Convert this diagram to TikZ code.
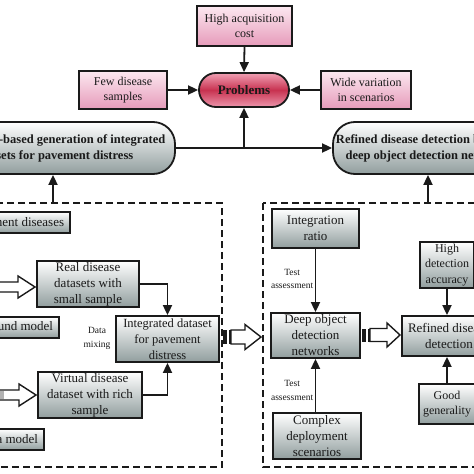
\documentclass[tikz,border=0pt]{standalone}
\usepackage{fontspec}
\setmainfont{Liberation Serif}
\usetikzlibrary{arrows.meta}
\definecolor{ink}{HTML}{1A1A1A}
\definecolor{grayb}{RGB}{145,158,158}
\definecolor{pinkt}{RGB}{252,232,240}
\definecolor{pinkb}{RGB}{230,155,186}
\definecolor{probt}{RGB}{240,160,180}
\definecolor{probm}{RGB}{200,50,80}
\definecolor{probb}{RGB}{236,150,172}
\tikzset{
 gbox/.style={draw=ink, line width=1.8pt, top color=white, bottom color=grayb, align=center, inner sep=0pt, text=ink, font=\fontsize{13}{16}\selectfont},
 pbox/.style={draw=ink, line width=1.8pt, top color=pinkt, bottom color=pinkb, align=center, inner sep=0pt, text=ink, font=\fontsize{12}{15}\selectfont},
 bigbox/.style={draw=ink, line width=1.8pt, top color=white, bottom color=grayb, rounded corners=22pt, align=center, inner sep=0pt, text=ink, font=\bfseries\fontsize{12.5}{16}\selectfont},
 probbox/.style={draw=ink, line width=1.8pt, rounded corners=17pt, top color=probt, bottom color=probb, middle color=probm, inner sep=0pt, text=ink, font=\bfseries\fontsize{13}{15}\selectfont},
 arr/.style={draw=ink, line width=1.8pt, -{Triangle[length=10pt,width=9pt]}},
 note/.style={align=center, inner sep=0pt, text=ink, font=\fontsize{9.5}{13.5}\selectfont},
 hollow/.style={draw=ink, line width=1.4pt, fill=white, line join=miter},
 dashbox/.style={draw=ink, line width=1.4pt, dash pattern=on 7pt off 4pt},
 cutbox/.style={gbox, anchor=east, minimum height=21pt, inner xsep=6pt},
}
\begin{document}
\begin{tikzpicture}[x=1pt,y=-1pt]
\useasboundingbox (0,0) rectangle (474,474);
\clip (0,0) rectangle (474,474);
\fill[white] (0,0) rectangle (474,474);

% top: problems
\node[pbox, minimum width=95pt, minimum height=40pt] (hac) at (244.5,26) {High acquisition\\cost};
\node[probbox, minimum width=90pt, minimum height=34pt] (prob) at (244,90) {Problems};
\node[pbox, minimum width=88pt, minimum height=38pt] (few) at (123,90) {Few disease\\samples};
\node[pbox, minimum width=90pt, minimum height=38pt] (wide) at (366,90) {Wide variation\\in scenarios};
\draw[arr] (hac.south) -- (prob.north);
\draw[arr] (few.east) -- (prob.west);
\draw[arr] (wide.west) -- (prob.east);

% big boxes
\node[bigbox, minimum width=244pt, minimum height=52pt] (gen) at (53,148) {Simulation-based generation of integrated\\datasets for pavement distress};
\node[bigbox, minimum width=190pt, minimum height=52pt] (det) at (428,148) {Refined disease detection based on\\deep object detection networks};
\draw[arr] (gen.east) -- (det.west);
\coordinate (mid) at (244,148);
\draw[arr] (mid) -- (prob.south);

% dashed frames
\draw[dashbox] (-10,203) rectangle (222,467);
\draw[dashbox] (263,203) rectangle (490,467);
\coordinate (lt) at (53,203);
\coordinate (rt) at (428,203);
\draw[arr] (lt) -- (gen.south);
\draw[arr] (rt) -- (det.south);

% left frame content
\node[cutbox] (pd) at (71,222.5) {Pavement diseases};
\node[cutbox] (bm) at (60,327.5) {Background model};
\node[cutbox] (dm) at (45,439.5) {Data model};
\node[gbox, minimum width=102pt, minimum height=46pt] (real) at (88,284) {Real disease\\datasets with\\small sample};
\node[gbox, minimum width=104pt, minimum height=46pt] (virt) at (90,395) {Virtual disease\\dataset with rich\\sample};
\node[gbox, minimum width=103pt, minimum height=46pt, font=\fontsize{12.5}{16}\selectfont] (integ) at (167.5,339) {Integrated dataset\\for pavement\\distress};
\draw[arr] (real.east) -| (integ.north);
\draw[arr] (virt.east) -| (integ.south);
\node[note] (mix) at (97,338.5) {Data\\mixing};

% hollow entry arrows (left)
\draw[hollow] (-5,282) -- (18,282) -- (18,276) -- (35,287) -- (18,298) -- (18,292) -- (-5,292) -- cycle;
\draw[hollow] (-5,390) -- (19,390) -- (19,384) -- (36,395) -- (19,406) -- (19,400) -- (-5,400) -- cycle;
\fill[gray!60] (0,390.7) rectangle (4,399.3);

% hollow arrow between frames
\draw[hollow] (231,330) -- (245,330) -- (245,324.5) -- (261,337) -- (245,349.5) -- (245,344) -- (231,344) -- cycle;
\fill[ink] (223,330) rectangle (226.5,344);
\fill[ink] (228.5,330) rectangle (231,344);

% right frame content
\node[gbox, minimum width=87pt, minimum height=39pt] (ir) at (315.5,228.5) {Integration\\ratio};
\node[gbox, minimum width=89pt, minimum height=45pt] (deep) at (315.5,335.5) {Deep object\\detection\\networks};
\node[gbox, minimum width=88pt, minimum height=46pt] (cds) at (317,436) {Complex\\deployment\\scenarios};
\draw[arr] (ir.south) -- (deep.north);
\draw[arr] (deep.south |- cds.north) -- (deep.south);
\node[note, anchor=east] (ta1) at (313.5,279) {Test\\assessment};
\node[note, anchor=east] (ta2) at (313.5,390.5) {Test\\assessment};

\draw[hollow] (370,328.5) -- (387,328.5) -- (387,323) -- (400,335) -- (387,347) -- (387,341.5) -- (370,341.5) -- cycle;
\fill[ink] (362,328.5) rectangle (365.5,341.5);
\fill[ink] (367.5,328.5) rectangle (370,341.5);

\node[gbox, minimum width=94pt, minimum height=40pt] (ref) at (449,336) {Refined disease\\detection};
\node[gbox, minimum width=54pt, minimum height=46pt, font=\fontsize{12}{15.5}\selectfont] (hda) at (447,265) {High\\detection\\accuracy};
\node[gbox, minimum width=56pt, minimum height=40pt, font=\fontsize{12}{15.5}\selectfont] (gg) at (447,404) {Good\\generality};
\draw[arr] (hda.south) -- (hda.south |- ref.north);
\draw[arr] (gg.north) -- (gg.north |- ref.south);
\end{tikzpicture}
\end{document}
